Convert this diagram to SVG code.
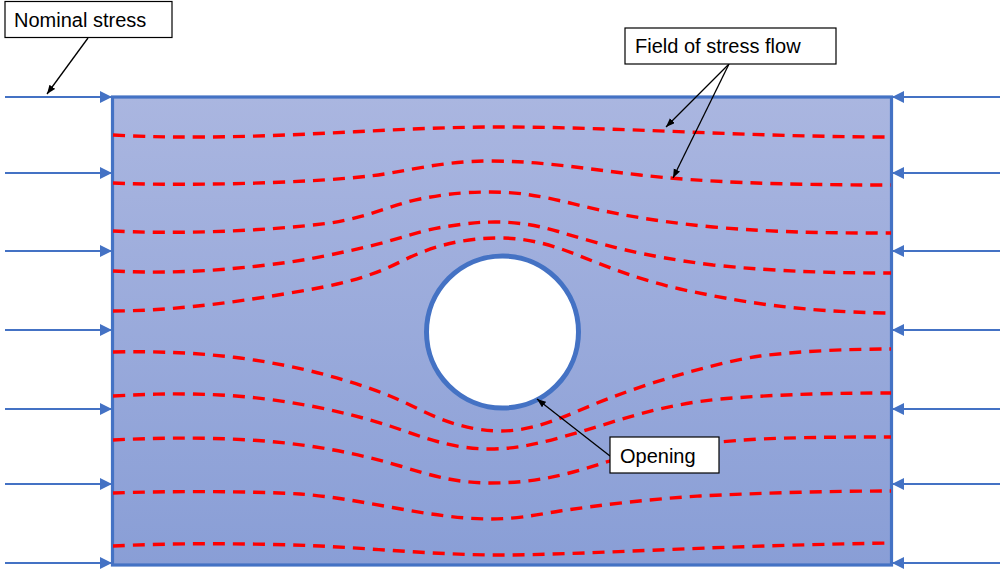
<svg xmlns="http://www.w3.org/2000/svg" width="1000" height="576" viewBox="0 0 1000 576">
  <defs>
    <linearGradient id="plateGrad" x1="0" y1="0" x2="0" y2="1">
      <stop offset="0" stop-color="#AAB6E0"/>
      <stop offset="1" stop-color="#899ED6"/>
    </linearGradient>
    <marker id="blueHead" markerUnits="userSpaceOnUse" markerWidth="12" markerHeight="12" refX="12" refY="6" orient="auto">
      <path d="M0,0 L12,6 L0,12 z" fill="#4472C4"/>
    </marker>
    <marker id="blackHead" markerUnits="userSpaceOnUse" markerWidth="10" markerHeight="8" refX="9" refY="3.5" orient="auto">
      <path d="M0,0 L9,3.5 L0,7 z" fill="#000"/>
    </marker>
  </defs>
  <style>
    .force { stroke: #4472C4; stroke-width: 1.8; fill: none; marker-end: url(#blueHead); }
    .flow { stroke: #FF0000; stroke-width: 3.4; fill: none; stroke-dasharray: 12 8; }
    .callout rect { fill: #FFFFFF; stroke: #000; stroke-width: 1.2; }
    .callout text { font-family: "Liberation Sans", Arial, sans-serif; font-size: 20px; fill: #000; }
    .leader { stroke: #000; stroke-width: 1.3; fill: none; marker-end: url(#blackHead); }
  </style>

  <rect width="1000" height="576" fill="#FFFFFF"/>

  <g id="plate">
    <rect x="112.5" y="97" width="779" height="468" fill="url(#plateGrad)" stroke="#4472C4" stroke-width="3.2"/>
  </g>

  <g id="stress-flow">
    <path class="flow" d="M113,135 C150,137 170,137 200,137 C300,137 400,127 500,127 C620,127 750,137 891,137"/>
    <path class="flow" d="M113,183 C170,186 300,184 370,176 C405,172 440,161 490,161 C540,161 580,168 640,175 C700,182 780,185 891,185"/>
    <path class="flow" d="M113,231 C170,234 260,232 330,223 C370,217 390,205 420,199 C440,195 460,192 490,192 C520,192 540,196 570,203 C610,213 650,221 713,227 C780,233 840,233 891,233"/>
    <path class="flow" d="M113,271 C150,273 200,273 267,265 C310,260 340,253 370,246 C400,239 420,230 450,226 C470,223 480,222 495,222 C520,222 540,226 560,232 C600,244 640,256 713,265 C780,272 840,273 891,273"/>
    <path class="flow" d="M113,311 C160,311 220,305 290,293 C340,285 370,277 400,262 C430,247 460,238 500,238 C530,238 555,246 580,256 C610,268 640,280 680,289 C740,302 800,312 891,313"/>
    <path class="flow" d="M113,352 C160,351 200,353 240,358 C300,366 350,380 390,396 C420,408 450,430 500,431 C540,431 570,413 610,398 C660,379 720,362 760,356 C800,351 850,349 891,349"/>
    <path class="flow" d="M113,396 C150,394 180,393 220,395 C280,398 340,410 390,426 C420,436 450,449 490,449 C520,449 545,442 580,432 C620,420 660,405 720,399 C780,394 840,393 891,393"/>
    <path class="flow" d="M113,440 C150,438 200,437 250,440 C300,443 350,451 400,466 C430,475 455,483 490,483 C530,483 560,477 600,464 C640,451 690,443 760,439 C810,437 850,437 891,437"/>
    <path class="flow" d="M113,493 C170,491 250,491 300,494 C360,498 430,519 490,519 C520,519 540,514 560,511 C600,505 650,499 700,496 C760,493 830,491 891,491"/>
    <path class="flow" d="M113,546 C170,543 250,543 320,546 C380,549 440,555 500,555 C580,555 700,546 891,543"/>
  </g>

  <g id="opening">
    <circle cx="502.5" cy="332" r="76" fill="#FFFFFF" stroke="#4472C4" stroke-width="5"/>
  </g>

  <g id="connectors">
    <line class="force" x1="5" y1="97" x2="112" y2="97"/>
    <line class="force" x1="5" y1="173" x2="112" y2="173"/>
    <line class="force" x1="5" y1="251" x2="112" y2="251"/>
    <line class="force" x1="5" y1="330" x2="112" y2="330"/>
    <line class="force" x1="5" y1="409" x2="112" y2="409"/>
    <line class="force" x1="5" y1="484" x2="112" y2="484"/>
    <line class="force" x1="5" y1="563" x2="112" y2="563"/>
    <line class="force" x1="1000" y1="97" x2="892" y2="97"/>
    <line class="force" x1="1000" y1="173" x2="892" y2="173"/>
    <line class="force" x1="1000" y1="251" x2="892" y2="251"/>
    <line class="force" x1="1000" y1="330" x2="892" y2="330"/>
    <line class="force" x1="1000" y1="409" x2="892" y2="409"/>
    <line class="force" x1="1000" y1="484" x2="892" y2="484"/>
    <line class="force" x1="1000" y1="563" x2="892" y2="563"/>
    <line class="leader" x1="88" y1="38" x2="47" y2="94"/>
    <line class="leader" x1="729" y1="64" x2="666" y2="127"/>
    <line class="leader" x1="729" y1="64" x2="673" y2="178"/>
    <line class="leader" x1="610" y1="456" x2="537" y2="399"/>
  </g>

  <g id="label-nominal" class="callout">
    <rect x="5" y="1.5" width="167" height="36"/>
    <text x="14" y="27">Nominal stress</text>
  </g>

  <g id="label-field" class="callout">
    <rect x="625" y="28" width="211" height="36"/>
    <text x="635" y="53">Field of stress flow</text>
  </g>

  <g id="label-opening" class="callout">
    <rect x="610" y="437" width="109" height="36"/>
    <text x="620" y="463">Opening</text>
  </g>
</svg>
